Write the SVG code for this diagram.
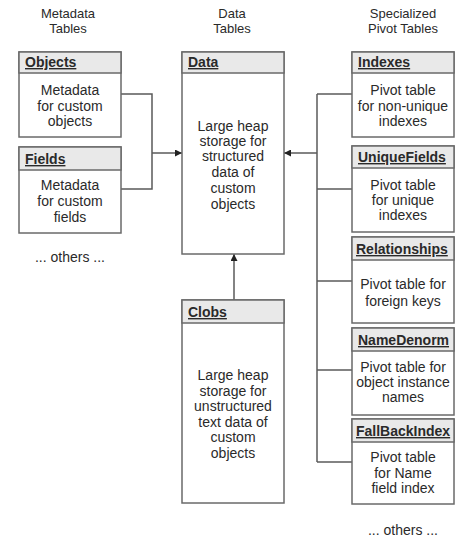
<svg xmlns="http://www.w3.org/2000/svg" width="469" height="547" viewBox="0 0 469 547">
<style>
text{font-family:"Liberation Sans",Arial,sans-serif;font-size:14px;fill:#2a2a2a}
.c{text-anchor:middle}
.t{font-size:13px}
.h{font-weight:bold;text-decoration:underline}
.box{fill:#fff;stroke:#6a6a6a;stroke-width:1.5}
.hd{fill:#e9e9e9;stroke:#6a6a6a;stroke-width:1.5}
.ln{fill:none;stroke:#5a5a5a;stroke-width:1.5}
</style>
<defs>
<marker id="ar" viewBox="0 0 10 10" refX="10" refY="5" markerWidth="9" markerHeight="7" markerUnits="userSpaceOnUse" orient="auto">
<path d="M0,0 L10,5 L0,10 z" fill="#222"/>
</marker>
</defs>
<rect width="469" height="547" fill="#fff"/>
<g id="titles">
<text class="c t" x="68" y="18">Metadata</text>
<text class="c t" x="68" y="33">Tables</text>
<text class="c t" x="232" y="18">Data</text>
<text class="c t" x="232" y="33">Tables</text>
<text class="c t" x="403" y="18">Specialized</text>
<text class="c t" x="403" y="33">Pivot Tables</text>
</g>
<g id="connectors">
<polyline class="ln" points="121,94 152,94 152,189 121,189"/>
<line class="ln" x1="152" y1="153" x2="182" y2="153" marker-end="url(#ar)"/>
<line class="ln" x1="234" y1="300" x2="234" y2="254" marker-end="url(#ar)"/>
<line class="ln" x1="317" y1="94" x2="317" y2="462"/>
<line class="ln" x1="317" y1="94" x2="352" y2="94"/>
<line class="ln" x1="317" y1="189" x2="352" y2="189"/>
<line class="ln" x1="317" y1="281" x2="352" y2="281"/>
<line class="ln" x1="317" y1="370" x2="352" y2="370"/>
<line class="ln" x1="317" y1="462" x2="352" y2="462"/>
<line class="ln" x1="317" y1="153" x2="284" y2="153" marker-end="url(#ar)"/>
</g>
<g id="objects">
<rect class="box" x="19" y="52" width="102" height="85"/>
<rect class="hd" x="19" y="52" width="102" height="21"/>
<text class="h" x="25" y="67">Objects</text>
<text class="c" x="70" y="95">Metadata</text>
<text class="c" x="70" y="111">for custom</text>
<text class="c" x="70" y="126">objects</text>
</g>
<g id="fields">
<rect class="box" x="19" y="147" width="102" height="86"/>
<rect class="hd" x="19" y="147" width="102" height="23"/>
<text class="h" x="25" y="164">Fields</text>
<text class="c" x="70" y="190">Metadata</text>
<text class="c" x="70" y="206">for custom</text>
<text class="c" x="70" y="222">fields</text>
</g>
<g id="others-left">
<text class="c" x="70" y="262">... others ...</text>
</g>
<g id="data">
<rect class="box" x="182" y="52" width="102" height="202"/>
<rect class="hd" x="182" y="52" width="102" height="21"/>
<text class="h" x="188" y="67">Data</text>
<text class="c" x="233" y="131">Large heap</text>
<text class="c" x="233" y="146">storage for</text>
<text class="c" x="233" y="161">structured</text>
<text class="c" x="233" y="177">data of</text>
<text class="c" x="233" y="193">custom</text>
<text class="c" x="233" y="209">objects</text>
</g>
<g id="clobs">
<rect class="box" x="182" y="300" width="102" height="203"/>
<rect class="hd" x="182" y="300" width="102" height="23"/>
<text class="h" x="188" y="317">Clobs</text>
<text class="c" x="233" y="380">Large heap</text>
<text class="c" x="233" y="396">storage for</text>
<text class="c" x="233" y="411">unstructured</text>
<text class="c" x="233" y="427">text data of</text>
<text class="c" x="233" y="442">custom</text>
<text class="c" x="233" y="458">objects</text>
</g>
<g id="indexes">
<rect class="box" x="352" y="52" width="102" height="85"/>
<rect class="hd" x="352" y="52" width="102" height="21"/>
<text class="h" x="358" y="67">Indexes</text>
<text class="c" x="403" y="95">Pivot table</text>
<text class="c" x="403" y="111">for non-unique</text>
<text class="c" x="403" y="126">indexes</text>
</g>
<g id="uniquefields">
<rect class="box" x="352" y="146" width="102" height="86"/>
<rect class="hd" x="352" y="146" width="102" height="22"/>
<text class="h" x="358" y="162">UniqueFields</text>
<text class="c" x="403" y="190">Pivot table</text>
<text class="c" x="403" y="205">for unique</text>
<text class="c" x="403" y="220">indexes</text>
</g>
<g id="relationships">
<rect class="box" x="352" y="237" width="102" height="86"/>
<rect class="hd" x="352" y="237" width="102" height="23"/>
<text class="h" x="356" y="254">Relationships</text>
<text class="c" x="403" y="289">Pivot table for</text>
<text class="c" x="403" y="306">foreign keys</text>
</g>
<g id="namedenorm">
<rect class="box" x="352" y="328" width="102" height="87"/>
<rect class="hd" x="352" y="328" width="102" height="23"/>
<text class="h" x="358" y="345">NameDenorm</text>
<text class="c" x="403" y="372">Pivot table for</text>
<text class="c" x="403" y="387">object instance</text>
<text class="c" x="403" y="402">names</text>
</g>
<g id="fallbackindex">
<rect class="box" x="352" y="419" width="102" height="85"/>
<rect class="hd" x="352" y="419" width="102" height="23"/>
<text class="h" x="356" y="436">FallBackIndex</text>
<text class="c" x="403" y="462">Pivot table</text>
<text class="c" x="403" y="478">for Name</text>
<text class="c" x="403" y="493">field index</text>
</g>
<g id="others-right">
<text class="c" x="403" y="535">... others ...</text>
</g>
</svg>
